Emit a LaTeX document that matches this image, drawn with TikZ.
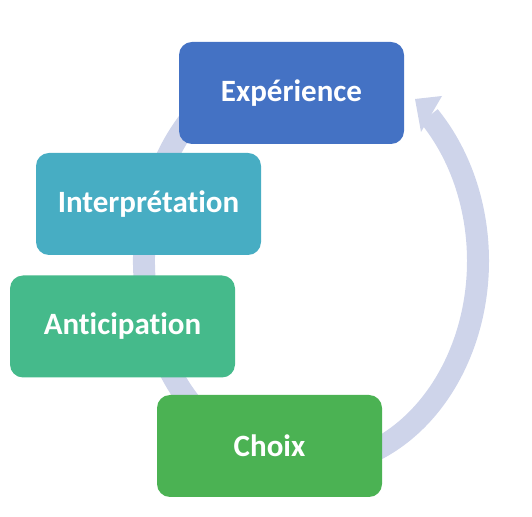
\documentclass[tikz,border=0pt]{standalone}
\usepackage{fontspec}
\setmainfont{Carlito}[Ligatures=NoCommon]
\definecolor{ringcol}{HTML}{CED4EA}
\definecolor{cexp}{HTML}{4472C4}
\definecolor{cint}{HTML}{47ADC3}
\definecolor{cant}{HTML}{45BA8B}
\definecolor{ccho}{HTML}{4BB253}
\begin{document}
\begin{tikzpicture}[x=1pt,y=1pt,
  stagebox/.style={rounded corners=13pt, minimum width=225pt, minimum height=102pt,
    inner sep=0pt, text=white, font=\fontsize{31}{36}\selectfont\bfseries}]
\useasboundingbox (0,0) rectangle (532,516);
% ring arrow
\coordinate (ctr) at (311,255);
\draw[line width=22pt, ringcol] (ctr) ++(65:167pt and 205pt)
  arc[start angle=65, end angle=405, x radius=167pt, y radius=205pt] coordinate (headbase);
\coordinate (wingin) at (421,384);
\coordinate (wingout) at (442,420);
\coordinate (tip) at (415,417);
\fill[ringcol] (wingin) -- (wingout) -- (tip) -- cycle;
% boxes
\node[stagebox, fill=cexp] (exp) at (291.5,423) {Expérience};
\node[stagebox, fill=cint] (int) at (148.5,312) {Interprétation};
\node[stagebox, fill=cant] (ant) at (122.5,189.5) {Anticipation};
\node[stagebox, fill=ccho] (cho) at (269.5,70) {Choix};
\end{tikzpicture}
\end{document}
